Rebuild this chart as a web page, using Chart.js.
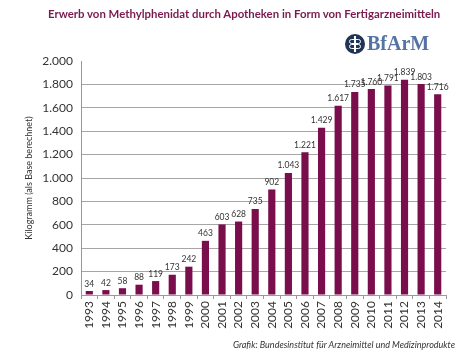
<!DOCTYPE html>
<html><head><meta charset="utf-8">
<script src="https://cdn.jsdelivr.net/npm/chart.js@4/dist/chart.umd.min.js"></script>
<style>
html,body{margin:0;padding:0;background:#fff;}
#wrap{position:relative;width:474px;height:355px;overflow:hidden;font-family:Lato,"Open Sans",sans-serif;}
#c{position:absolute;left:0;top:0;}
#title{position:absolute;left:48px;top:7px;font-weight:bold;font-size:11.4px;color:#7a1a4f;white-space:nowrap;}
#logoC{position:absolute;left:345px;top:34px;width:20px;height:20px;border-radius:50%;background:#1f3556;}
#logoC span{position:absolute;left:9px;top:2px;width:2px;height:16px;background:#fff;}
#logoC i{position:absolute;left:4px;width:12px;height:5px;border:1.5px solid #fff;border-radius:3px;box-sizing:border-box;}
#logoT{position:absolute;left:367px;top:32px;font-family:"Liberation Serif",serif;font-weight:bold;font-size:20px;color:#5573a3;}
#foot{position:absolute;left:0;width:455px;top:339px;text-align:right;font-style:italic;font-size:9px;color:#333;white-space:nowrap;}
</style></head><body>
<div id="wrap">
<canvas id="c" width="474" height="355"></canvas>
<div id="title">Erwerb von Methylphenidat durch Apotheken in Form von Fertigarzneimitteln</div>
<div id="logoC"><span></span><i style="top:5px"></i><i style="top:10px"></i></div>
<div id="logoT">BfArM</div>
<div id="foot">Grafik: Bundesinstitut für Arzneimittel und Medizinprodukte</div>
</div>
<script>
const years = ["1993","1994","1995","1996","1997","1998","1999","2000","2001","2002","2003","2004","2005","2006","2007","2008","2009","2010","2011","2012","2013","2014"];
const kilograms = [34,42,58,88,119,173,242,463,603,628,735,902,1043,1221,1429,1617,1735,1760,1791,1839,1803,1716];
const yTicks = [0,200,400,600,800,1000,1200,1400,1600,1800,2000];
const yTitle = "Kilogramm (als Base berechnet)";

const fmt = v => v.toLocaleString('de-DE');

const labelPlugin = {
  id:'vlabels',
  afterDatasetsDraw(chart){
    const ctx = chart.ctx;
    const meta = chart.getDatasetMeta(0);
    ctx.save();
    ctx.font = '8.5px Lato, sans-serif';
    ctx.fillStyle = '#333';
    ctx.textAlign = 'center';
    ctx.textBaseline = 'bottom';
    meta.data.forEach((bar,i)=>{
      ctx.fillText(fmt(kilograms[i]), bar.x, bar.y - 3);
    });
    ctx.restore();
  }
};

new Chart(document.getElementById('c'), {
  type:'bar',
  data:{labels:years, datasets:[{data:kilograms, backgroundColor:'#7a0d4c', categoryPercentage:0.9, barPercentage:0.48}]},
  options:{
    responsive:false, animation:false,
    layout:{padding:{left:0,right:28,top:61,bottom:0}},
    plugins:{legend:{display:false}, tooltip:{enabled:false}},
    scales:{
      x:{
        grid:{display:true, drawOnChartArea:false, drawTicks:true, tickLength:4, offset:true, color:'#999'},
        border:{color:'#999'},
        ticks:{autoSkip:false, minRotation:90, maxRotation:90, color:'#333', font:{size:12, family:'Lato, sans-serif'}, padding:2},
        afterFit(s){ s.height = 60; }
      },
      y:{
        min:0, max:2000,
        afterBuildTicks(s){ s.ticks = yTicks.map(v=>({value:v})); },
        ticks:{color:'#333', font:{size:12, family:'Lato, sans-serif'}, padding:8, callback:v=>fmt(v)},
        grid:{color:ctx=> ctx.tick && ctx.tick.value===2000 ? 'rgba(0,0,0,0)' : '#a6a6a6', drawTicks:false},
        border:{color:'#999'},
        title:{display:true, text:yTitle, color:'#333', font:{size:9, family:'Lato, sans-serif'}, padding:{top:24,bottom:0}},
        afterFit(s){ s.width = 81; }
      }
    }
  },
  plugins:[labelPlugin]
});
</script>
</body></html>
